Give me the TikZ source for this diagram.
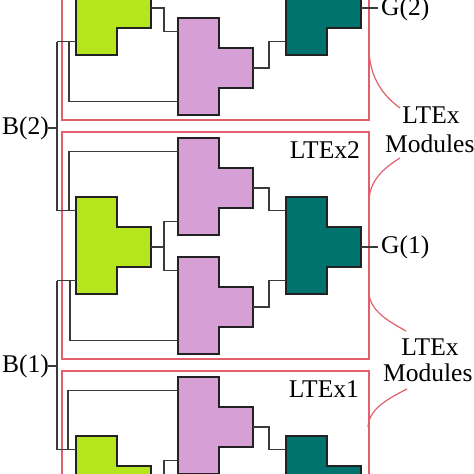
\documentclass[tikz,border=0pt]{standalone}
\usepackage{fontspec}
\setmainfont{Liberation Serif}
\definecolor{limeC}{HTML}{B5E61D}
\definecolor{plumC}{HTML}{D6A0D6}
\definecolor{tealC}{HTML}{00736E}
\definecolor{redC}{HTML}{E2606B}
\definecolor{wireC}{HTML}{3A3A3A}
\definecolor{edgeC}{HTML}{222222}
\begin{document}
\begin{tikzpicture}[x=1pt,y=-1pt,
  wire/.style={draw=wireC, line width=1.4pt},
  frame/.style={draw=redC, line width=1.5pt},
  brace/.style={draw=redC, line width=1.2pt},
  lbl/.style={font=\fontsize{25.5}{30}\selectfont, inner sep=0pt},
  pics/tee/.style={code={
     \path[draw=edgeC, line width=1.7pt, fill=#1] (0,0) -- (41,0) -- (41,30) -- (75,30) -- (75,70) -- (41,70) -- (41,97) -- (0,97) -- cycle;
     \coordinate (-a) at (0,13.5);
     \coordinate (-b) at (0,83.5);
     \coordinate (-p) at (75,50);
  }}]
\useasboundingbox (0,0) rectangle (474,474);
\clip (0,0) rectangle (474,474);

% module frames
\draw[frame] (62,-10) rectangle (369,120);
\draw[frame] (62,132) rectangle (369,359);
\draw[frame] (62,371) rectangle (369,490);

% x positions of the vertical wire runs
\coordinate (busL) at (57,0);
\coordinate (s3) at (69,0);
\coordinate (s2) at (69,0);
\coordinate (s1a) at (70,0);
\coordinate (s1b) at (68,0);
\coordinate (gx) at (164,0);
\coordinate (px) at (269,0);

% blocks
\pic (g3) at (76,-42) {tee=limeC};
\pic (p3) at (178,18) {tee=plumC};
\pic (t3) at (286,-42) {tee=tealC};

\pic (p2a) at (178,138) {tee=plumC};
\pic (g2) at (76,197) {tee=limeC};
\pic (p2b) at (178,257) {tee=plumC};
\pic (t2) at (286,197) {tee=tealC};

\pic (p1) at (178,377) {tee=plumC};
\pic (g1) at (76,436) {tee=limeC};
\pic (t1) at (286,436) {tee=tealC};

% labels
\node[lbl, anchor=east] (B2) at (49,128) {B(2)};
\node[lbl, anchor=east] (B1) at (49,366) {B(1)};
\node[lbl, anchor=west] (G2) at (381,9) {G(2)};
\node[lbl, anchor=west] (G1) at (381,247) {G(1)};
\node[lbl, anchor=base east] (lx2) at (360,158) {LTEx2};
\node[lbl, anchor=base east] (lx1) at (359,397) {LTEx1};
\node[lbl, anchor=base] (mA1) at (431,123) {LTEx};
\node[lbl, anchor=base west] (mA2) at (385,152) {Modules};
\node[lbl, anchor=base] (mB1) at (430,355) {LTEx};
\node[lbl, anchor=base west] (mB2) at (383,381) {Modules};

% bus B(2)
\draw[wire] ([xshift=-1pt]B2.east) -- (B2.east -| busL);
\draw[wire] (g3-b -| busL) -- (g2-a -| busL);
\draw[wire] (g3-b -| busL) -- (g3-b);
\draw[wire] (g3-b -| s3) |- (p3-b);
\draw[wire] (g2-a -| busL) -- (g2-a);
\draw[wire] (g2-a -| s2) |- (p2a-a);

% bus B(1)
\draw[wire] ([xshift=-1pt]B1.east) -- (B1.east -| busL);
\draw[wire] (g2-b -| busL) -- (g1-a -| busL);
\draw[wire] (g2-b -| busL) -- (g2-b);
\draw[wire] (g2-b -| s1a) |- (p2b-b);
\draw[wire] (g1-a -| busL) -- (g1-a);
\draw[wire] (g1-a -| s1b) |- (p1-a);

% green -> purple
\draw[wire] (g3-p) -- (g3-p -| gx) |- (p3-a);
\draw[wire] (g2-p) -- (g2-p -| gx);
\draw[wire] (p2a-b) -- (p2a-b -| gx) -- (p2b-a -| gx) -- (p2b-a);
\draw[wire] (g1-p) -- (g1-p -| gx) |- (p1-b);

% purple -> teal
\draw[wire] (p3-p) -- (p3-p -| px) |- (t3-b);
\draw[wire] (p2a-p) -- (p2a-p -| px) |- (t2-a);
\draw[wire] (p2b-p) -- (p2b-p -| px) |- (t2-b);
\draw[wire] (p1-p) -- (p1-p -| px) |- (t1-a);

% teal -> outputs
\draw[wire] (t3-p) -- ([xshift=-3pt]G2.west |- t3-p);
\draw[wire] (t2-p) -- ([xshift=-3pt]G1.west |- t2-p);

% brace curves
\coordinate (cA1) at (369,50);   \coordinate (cA2) at (400,108);
\coordinate (cB1) at (400,158);  \coordinate (cB2) at (369,200);
\coordinate (cC1) at (369,294);  \coordinate (cC2) at (406,331);
\coordinate (cD1) at (407,389);  \coordinate (cD2) at (368,427);
\draw[brace] (cA1) .. controls (370,80) and (385,97) .. (cA2);
\draw[brace] (cB1) .. controls (384,168) and (370,180) .. (cB2);
\draw[brace] (cC1) .. controls (371,312) and (390,322) .. (cC2);
\draw[brace] (cD1) .. controls (385,400) and (369,410) .. (cD2);
\end{tikzpicture}
\end{document}
